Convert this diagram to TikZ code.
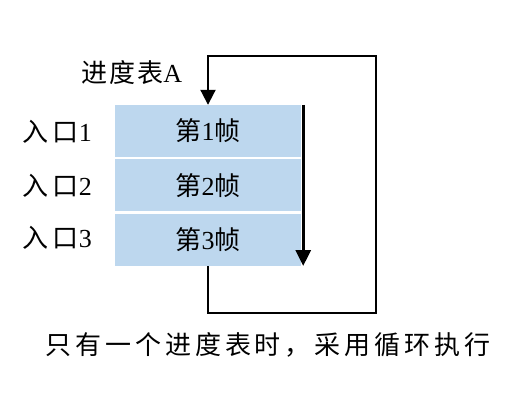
\documentclass[tikz,border=0pt]{standalone}
\usepackage{fontspec}
\setmainfont{Liberation Serif}
\newfontfamily\cjk[LetterSpace=15]{Noto Sans CJK SC}
\newfontfamily\cjkframe[LetterSpace=8]{Noto Sans CJK SC}
\usepackage{xcolor}
\definecolor{framebg}{RGB}{189,215,238}
\usetikzlibrary{positioning,arrows.meta}

\begin{document}
\begin{tikzpicture}[x=1pt,y=-1pt,
  frame/.style={rectangle,fill=framebg,minimum width=186pt,minimum height=52pt,
    inner sep=0pt,font=\fontsize{26pt}{28pt}\selectfont},
  entry/.style={inner sep=0pt,font=\fontsize{26pt}{28pt}\selectfont}]
  \useasboundingbox (0,0) rectangle (513,400);
  \node[frame] (f1) at (208,131) {{\cjkframe 第}1{\cjkframe 帧}};
  \node[frame,below=2pt of f1] (f2) {{\cjkframe 第}2{\cjkframe 帧}};
  \node[frame,below=2pt of f2] (f3) {{\cjkframe 第}3{\cjkframe 帧}};
  \node[entry,anchor=east] (e1) at (92,132) {{\cjk 入口}1};
  \node[entry,anchor=east] (e2) at (92,186) {{\cjk 入口}2};
  \node[entry,anchor=east] (e3) at (92,238) {{\cjk 入口}3};
  \node[entry,anchor=west] (ta) at (81,73) {{\cjkframe 进度表}A};
  \node[entry] (cap) at (268,345) {\cjk 只有一个进度表时，采用循环执行};
  % sequence arrow
  \draw[line width=3pt,-{Triangle[length=16pt,width=15pt]}]
    ([xshift=2pt]f1.north east) -- ([xshift=2pt]f3.south east);
  % loop back to the first frame
  \coordinate (loopR) at (376,56);
  \draw[line width=2pt,-{Triangle[length=15pt,width=15pt]}]
    (f3.south) -- ++(0,47) -| (loopR) -| (f1.north);
\end{tikzpicture}
\end{document}
